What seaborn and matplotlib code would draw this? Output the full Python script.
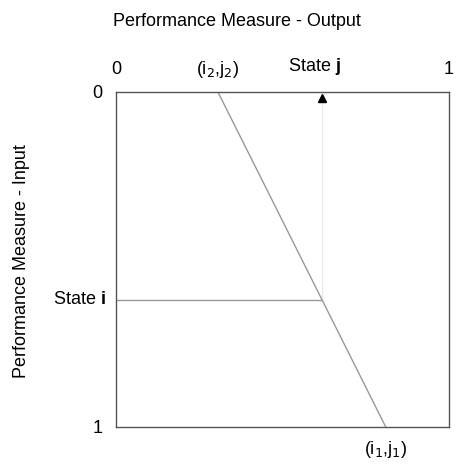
import matplotlib
matplotlib.use("Agg")
import matplotlib.pyplot as plt
import seaborn as sns

sns.set_theme(style="white")
plt.rcParams['font.family'] = ['Liberation Sans', 'DejaVu Sans']
plt.rcParams['text.color'] = 'black'

# Data
diag_x = [0.306, 0.81]
diag_y = [0.0, 1.0]
state_point = (0.62, 0.62)
tick_vals = [0, 1]
tick_labels = ["0", "1"]

fig = plt.figure(figsize=(4.74, 4.67), dpi=100)
ax = fig.add_axes([0.245, 0.086, 0.702, 0.717])

sns.lineplot(x=diag_x, y=diag_y, ax=ax, color="#999999", lw=1, sort=False)
sns.lineplot(x=[0, state_point[0]], y=[state_point[1], state_point[1]], ax=ax, color="#999999", lw=1)
sns.lineplot(x=[state_point[0], state_point[0]], y=[state_point[1], 0.02], ax=ax, color="#999999", lw=1, sort=False)
ax.plot(state_point[0], 0.018, marker="^", color="black", ms=6, clip_on=False, zorder=5)

ax.set_xlim(0, 1)
ax.set_ylim(1, 0)
ax.xaxis.tick_top()
ax.set_xticks(tick_vals)
ax.set_xticklabels(tick_labels, fontsize=13, color="black")
ax.set_yticks(tick_vals)
ax.set_yticklabels(tick_labels, fontsize=13, color="black")
ax.tick_params(length=0, pad=10)
for s in ax.spines.values():
    s.set_color("#555555")
    s.set_linewidth(1)

ax.text(0.306, -0.035, r"(i$_2$,j$_2$)", ha="center", va="bottom", fontsize=13)
ax.text(0.81, 1.035, r"(i$_1$,j$_1$)", ha="center", va="top", fontsize=13)
ax.text(-0.045, state_point[1], "State ", ha="right", va="center", fontsize=13)
ax.text(-0.045, state_point[1], "i", ha="left", va="center", fontsize=13, fontweight="bold")
ax.text(0.59, -0.05, "State ", ha="center", va="bottom", fontsize=13)
ax.text(0.66, -0.05, "j", ha="left", va="bottom", fontsize=13, fontweight="bold")

fig.text(0.5, 0.955, "Performance Measure - Output", ha="center", va="center", fontsize=13)
fig.text(0.045, 0.44, "Performance Measure - Input", ha="center", va="center",
         rotation=90, fontsize=13)

fig.savefig("out.png", dpi=100)
